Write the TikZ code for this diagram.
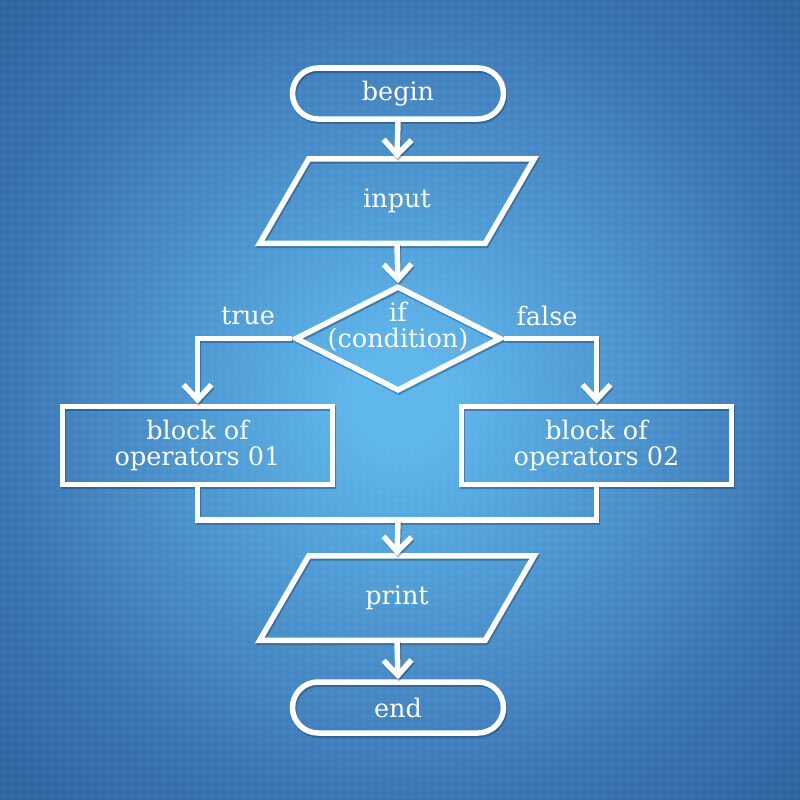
\documentclass[tikz,border=0pt]{standalone}
\usepackage{fontspec}
\setmainfont{DejaVu Serif}
\usetikzlibrary{arrows.meta,shapes.misc,shapes.geometric}
\definecolor{bgin}{HTML}{5DB6EC}
\definecolor{bgmid}{HTML}{3A74B3}
\definecolor{bgout}{HTML}{2E62A0}
\definecolor{shadowc}{HTML}{0B2A55}
\pgfdeclareradialshading{bgshade}{\pgfpoint{0bp}{0bp}}{color(0bp)=(bgin); color(50bp)=(bgin); color(400bp)=(bgmid); color(570bp)=(bgout)}
\tikzset{
  wline/.style={draw=white, line width=5.5pt,
    preaction={draw=shadowc, draw opacity=0.35, line width=5.5pt, transform canvas={xshift=1pt,yshift=-2pt}}},
  arr/.style={wline, -{Straight Barb[length=15pt,width=28pt]}},
  txt/.style={text=white, font=\fontsize{25.5}{26}\selectfont, align=center},
  term/.style={rounded rectangle, wline, txt, minimum width=211pt, minimum height=51pt, inner sep=0pt},
  proc/.style={rectangle, wline, txt, minimum width=270pt, minimum height=78pt, inner sep=0pt},
  io/.style={rectangle, txt, minimum width=220pt, minimum height=79pt, inner sep=0pt, outer sep=2.75pt},
  dec/.style={diamond, wline, minimum width=206pt, minimum height=105pt, inner sep=0pt},
  gridline/.style={white, opacity=0.05, line width=1pt}
}
\begin{document}
\begin{tikzpicture}[x=1pt,y=-1pt]
\begin{scope}
\clip (0,0) rectangle (800,800);
\node[inner sep=0pt, outer sep=0pt] (bgimg) at (400,400) {\pgfuseshading{bgshade}};
\end{scope}
\useasboundingbox (0,0) rectangle (800,800);
\foreach \i in {4,12,...,800} {
  \draw[gridline] (\i,0) -- (\i,800);
  \draw[gridline] (0,\i) -- (800,\i);
}
% nodes
\node[term] (begin) at (398,93.5) {begin};
\node[io] (inp) at (397,201) {input};
\draw[wline, line join=miter] ([xshift=24.5pt]inp.north west) -- ([xshift=24.5pt]inp.north east) -- ([xshift=-24.5pt]inp.south east) -- ([xshift=-24.5pt]inp.south west) -- cycle;
\node[dec] (cond) at (398,338.5) {};
\node[txt] (condtxt) at (398,327) {if\\(condition)};
\node[txt] (tru) at (248,316) {true};
\node[txt] (fls) at (547,316) {false};
\node[proc] (b1) at (197.5,445.5) {block of\\operators 01};
\node[proc] (b2) at (596.5,445.5) {block of\\operators 02};
\coordinate (m) at (398,520);
\node[io] (prt) at (397,598) {print};
\draw[wline, line join=miter] ([xshift=24.5pt]prt.north west) -- ([xshift=24.5pt]prt.north east) -- ([xshift=-24.5pt]prt.south east) -- ([xshift=-24.5pt]prt.south west) -- cycle;
\node[term] (end) at (398,707.5) {end};
% connectors
\draw[arr] (begin.south) -- (inp.north);
\draw[arr] (inp.south) -- (cond.north);
\draw[arr] (cond.west) -| (b1.north);
\draw[arr] (cond.east) -| (b2.north);
\draw[wline] (b1.south) |- (m) -| (b2.south);
\draw[arr] (m) -- (prt.north);
\draw[arr] (prt.south) -- (end.north);
\end{tikzpicture}
\end{document}
